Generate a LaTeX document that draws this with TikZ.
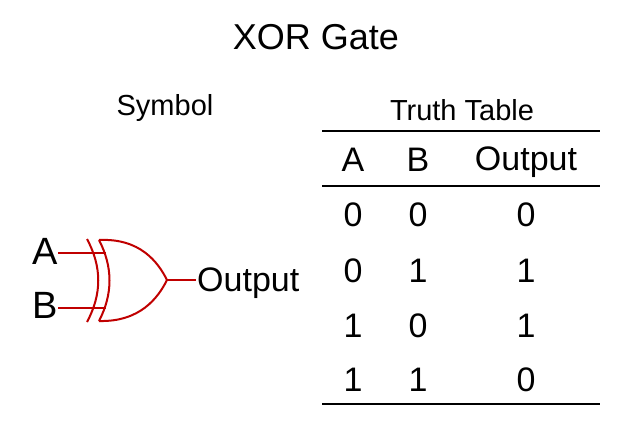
\documentclass[tikz,border=0pt]{standalone}
\usepackage{fontspec}
\setmainfont{Liberation Sans}
\definecolor{gred}{RGB}{192,0,0}
\begin{document}
\begin{tikzpicture}[x=1pt,y=-1pt,
  wire/.style={draw=gred,line width=2pt},
  lbl/.style={inner sep=0pt,font=\fontsize{34}{36}\selectfont},
  hdr/.style={inner sep=0pt,font=\fontsize{29}{31}\selectfont},
  rule/.style={line width=1.3pt}]
\useasboundingbox (0,0) rectangle (632,432);
\node[inner sep=0pt,font=\fontsize{36}{40}\selectfont] (title) at (316,37) {XOR Gate};
\node[hdr] (sym) at (165,108) {Symbol};
\node[hdr] (tt) at (462,110) {Truth Table};
% gate
\coordinate (tl) at (99,240);
\coordinate (bl) at (99,321);
\coordinate (tip) at (167,280);
\draw[wire] (tl) .. controls (113,267) and (113,294) .. (bl);
\draw[wire] (tl) .. controls (140,238) and (158,262) .. (tip);
\draw[wire] (bl) .. controls (140,322) and (158,298) .. (tip);
\coordinate (xt) at (87,239);
\coordinate (xb) at (87,322);
\draw[wire] (xt) .. controls (102,267) and (102,294) .. (xb);
\coordinate (ia) at (106,253);
\coordinate (ib) at (106,308);
\node[inner sep=0pt,font=\fontsize{38}{40}\selectfont,anchor=east] (A) at (58,251) {A};
\node[inner sep=0pt,font=\fontsize{38}{40}\selectfont,anchor=east] (B) at (58,305) {B};
\node[lbl,anchor=west,inner sep=1pt] (out) at (196,283) {Output};
\draw[wire] (A.east) ++(0,2) -- (ia);
\draw[wire] (B.east) ++(0,3) -- (ib);
\draw[wire] (tip) -- (out.west |- tip);
% table
\draw[rule] (322,131) -- (600,131);
\draw[rule] (322,186) -- (600,186);
\draw[rule] (322,404) -- (600,404);
\node[lbl] (hA) at (353,160) {A};
\node[lbl] (hB) at (418,160) {B};
\node[lbl] (hO) at (526,162) {Output};
\foreach \a/\b/\o/\y in {0/0/0/215,0/1/1/271,1/0/1/326,1/1/0/380}{
  \node[lbl] (a\y) at (353,\y) {\a};
  \node[lbl] (b\y) at (418,\y) {\b};
  \node[lbl] (o\y) at (526,\y) {\o};
}
\end{tikzpicture}
\end{document}
